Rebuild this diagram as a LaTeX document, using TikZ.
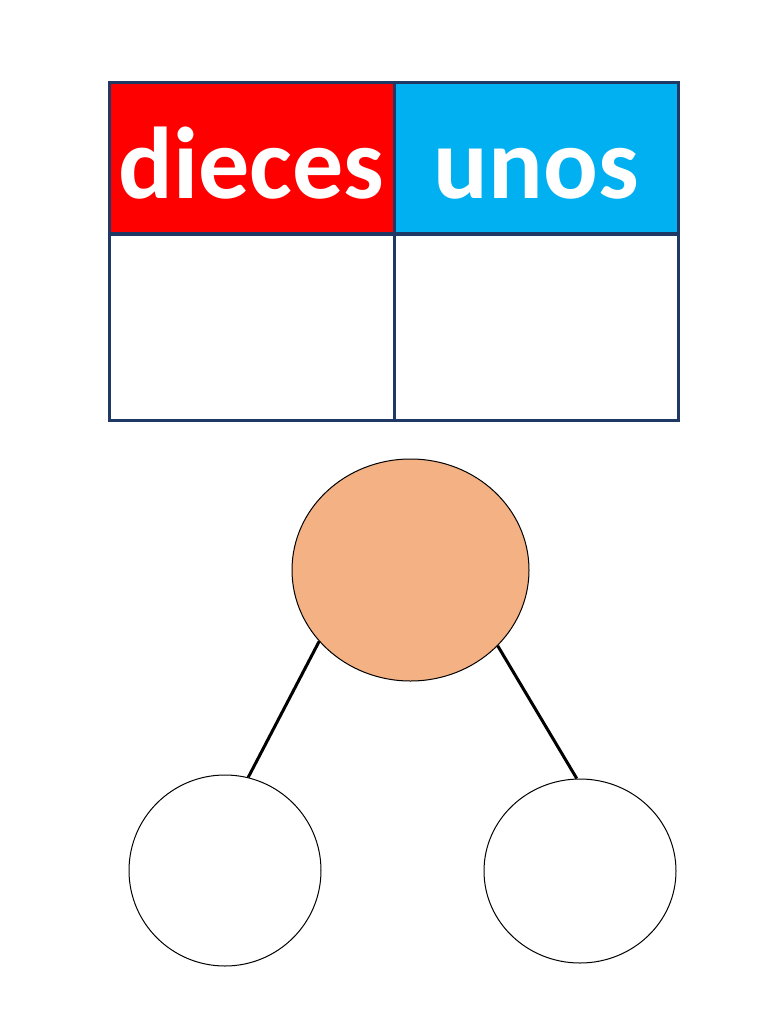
\documentclass[tikz,border=0pt]{standalone}
\usepackage{fontspec}
\setmainfont{Carlito}
\usetikzlibrary{shapes.geometric}
\definecolor{navy}{HTML}{1F3864}
\definecolor{tenred}{HTML}{FF0000}
\definecolor{oneblue}{HTML}{00B0F0}
\definecolor{peach}{HTML}{F4B183}
\tikzset{
	cell/.style={draw=navy,line width=3pt,minimum width=284.5pt,inner sep=0pt,outer sep=0pt,anchor=north west},
	head/.style={cell,minimum height=151pt,text=white,font=\fontsize{102}{110}\selectfont\bfseries,text height=80pt,text depth=0pt},
	blob/.style={draw=black,line width=1pt,ellipse,inner sep=0pt}
}
\begin{document}
\begin{tikzpicture}[x=1pt,y=-1pt]
	\useasboundingbox[fill=white] (0,0) rectangle (768,1024);
	% tabla de valor posicional
	\node[head,fill=tenred] (dieces) at (109.5,83) {dieces};
	\node[head,fill=oneblue] (unos) at (394,83) {unos};
	\node[cell,minimum height=186pt] (dbox) at (109.5,234) {};
	\node[cell,minimum height=186pt] (ubox) at (394,234) {};
	% vinculo numerico
	\node[blob,fill=peach,minimum width=237pt,minimum height=222pt] (whole) at (410.5,570) {};
	\node[blob,minimum width=192pt,minimum height=191pt] (left) at (225,870.5) {};
	\node[blob,minimum width=192pt,minimum height=184pt] (right) at (580,871) {};
	\draw[line width=3pt] (whole.218.9) -- (left.76);
	\draw[line width=3pt] (whole.319.5) -- (right.92);
\end{tikzpicture}
\end{document}
